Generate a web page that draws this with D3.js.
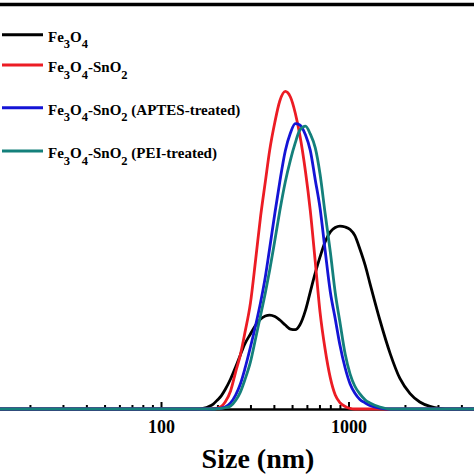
<!DOCTYPE html>
<html>
<head>
<meta charset="utf-8">
<script src="https://cdn.jsdelivr.net/npm/d3@7/dist/d3.min.js"></script>
<style>
  body { margin: 0; background: #fff; }
  svg { display: block; font-family: "Liberation Serif", "Times New Roman", serif; font-weight: bold; }
</style>
</head>
<body>
<svg></svg>
<script>
var width = 474, height = 474;

// particle size bins (nm), shared by all four series
var sizes = [10, 100, 150, 160, 170, 180, 190, 200, 210, 220, 235, 250, 265, 280, 300, 320, 340, 360, 380, 405,
  430, 460, 490, 520, 550, 590, 625, 665, 705, 750, 800, 850, 900, 960, 1020, 1080, 1150, 1230, 1300, 1470,
  1670, 1880, 2130, 2400, 2720, 3080, 3480, 4000, 10000];

// intensity
var fe3o4 = [0, 0, 0, 0.01, 0.05, 0.14, 0.27, 0.49, 0.73, 1.06, 1.63, 2.28, 2.94, 3.54, 4.08, 4.57, 4.90, 5.06, 5.11, 5.03,
  4.84, 4.57, 4.35, 4.32, 4.57, 5.38, 6.36, 7.40, 8.27, 9.08, 9.63, 9.87, 9.95, 9.90, 9.76, 9.44, 8.70, 7.78, 6.85, 4.84,
  3.00, 1.66, 0.84, 0.38, 0.14, 0.03, 0, 0, 0];
var fe3o4Sno2 = [0, 0, 0, 0, 0, 0.01, 0.03, 0.05, 0.14, 0.38, 0.98, 2.01, 2.94, 4.13, 5.77, 8.16, 10.50, 12.35, 14.08, 15.61,
  16.75, 17.27, 16.97, 16.10, 14.90, 12.89, 10.82, 8.00, 5.27, 3.26, 1.69, 0.76, 0.35, 0.14, 0.03, 0, 0, 0, 0, 0,
  0, 0, 0, 0, 0, 0, 0, 0, 0];
var aptesTreated = [0, 0, 0, 0, 0, 0, 0.01, 0.03, 0.05, 0.11, 0.33, 0.76, 1.36, 2.18, 3.37, 4.57, 5.82, 7.18, 8.76, 10.66,
  12.35, 14.03, 15.01, 15.52, 15.45, 14.90, 14.08, 12.46, 10.93, 8.65, 6.36, 4.90, 3.48, 2.23, 1.36, 0.87, 0.52, 0.33, 0.19, 0.05,
  0, 0, 0, 0, 0, 0, 0, 0, 0];
var peiTreated = [0, 0, 0, 0, 0, 0, 0, 0.02, 0.03, 0.07, 0.16, 0.46, 0.92, 1.58, 2.56, 3.86, 5.11, 6.31, 7.56, 9.19,
  10.77, 12.35, 13.54, 14.47, 15.17, 15.39, 14.96, 14.20, 12.78, 10.66, 8.54, 6.31, 4.73, 2.99, 1.90, 1.25, 0.82, 0.49, 0.33, 0.11,
  0, 0, 0, 0, 0, 0, 0, 0, 0];

var seriesNames = ["Fe3O4", "Fe3O4-SnO2", "Fe3O4-SnO2 (APTES-treated)", "Fe3O4-SnO2 (PEI-treated)"];
var seriesValues = [fe3o4, fe3o4Sno2, aptesTreated, peiTreated];
var seriesColors = ["#000000", "#ec1c24", "#1414d6", "#14807b"];
var majorTicks = [100, 1000];
var xTitle = "Size (nm)";

// legend rows sit at uneven heights in the original
var legendY = [34.7, 65, 107.7, 151];

var svg = d3.select("svg")
  .attr("width", width)
  .attr("height", height);

// plot frame is wider than the picture: left and right edges are cropped off
var x = d3.scaleLog().domain([10, 10000]).range([-26.5, 536]);
var y = d3.scaleLinear().domain([0, 22]).range([409, 4.5]);

// top frame line
svg.append("line")
  .attr("x1", 0).attr("x2", width)
  .attr("y1", y.range()[1]).attr("y2", y.range()[1])
  .attr("stroke", "#000")
  .attr("stroke-width", 3.5);

var minor = x.ticks().filter(function(d) { return majorTicks.indexOf(d) < 0; });

var axisG = svg.append("g")
  .attr("transform", "translate(0," + y(0) + ")");

axisG.append("g")
  .call(d3.axisBottom(x).tickValues(minor).tickSize(-4).tickSizeOuter(0).tickFormat(""))
  .call(function(g) { g.select(".domain").remove(); });

axisG.append("g")
  .call(d3.axisBottom(x).tickValues(majorTicks).tickSize(-7).tickSizeOuter(0).tickFormat(d3.format("d")))
  .call(function(g) {
    g.select(".domain").attr("stroke-width", 2.5);
    g.selectAll("text")
      .attr("y", 24)
      .attr("dy", 0)
      .attr("fill", "#000")
      .style("font-size", "18px")
      .style("font-family", "'Liberation Serif', 'Times New Roman', serif")
      .style("font-weight", "bold");
  });

axisG.selectAll(".tick line").attr("stroke-width", 2);

svg.append("text")
  .attr("x", 258)
  .attr("y", 468)
  .attr("text-anchor", "middle")
  .style("font-size", "28px")
  .text(xTitle);

var line = d3.line()
  .x(function(d) { return x(d[0]); })
  .y(function(d) { return y(d[1]); })
  .curve(d3.curveMonotoneX);

svg.append("g")
  .selectAll("path")
  .data(seriesValues)
  .enter()
  .append("path")
  .attr("fill", "none")
  .attr("stroke", function(d, i) { return seriesColors[i]; })
  .attr("stroke-width", 2.8)
  .attr("d", function(vals) {
    return line(sizes.map(function(s, j) { return [s, vals[j]]; }));
  });

// legend, digits after a letter become subscripts
var legend = svg.append("g")
  .selectAll("g")
  .data(seriesNames)
  .enter()
  .append("g")
  .attr("transform", function(d, i) { return "translate(0," + legendY[i] + ")"; });

legend.append("line")
  .attr("x1", 2).attr("x2", 43)
  .attr("stroke", function(d, i) { return seriesColors[i]; })
  .attr("stroke-width", 3);

legend.append("text")
  .attr("x", 48)
  .attr("y", 7)
  .style("font-size", "15px")
  .each(function(name) {
    var t = d3.select(this);
    var parts = name.split(/(\d+)/);
    var shifted = false;
    parts.forEach(function(p) {
      if (p === "") return;
      if (/^\d+$/.test(p)) {
        t.append("tspan").attr("dy", 6.5).style("font-size", "12.5px").text(p);
        shifted = true;
      } else {
        t.append("tspan").attr("dy", shifted ? -6.5 : 0).text(p);
        shifted = false;
      }
    });
  });
</script>
</body>
</html>
